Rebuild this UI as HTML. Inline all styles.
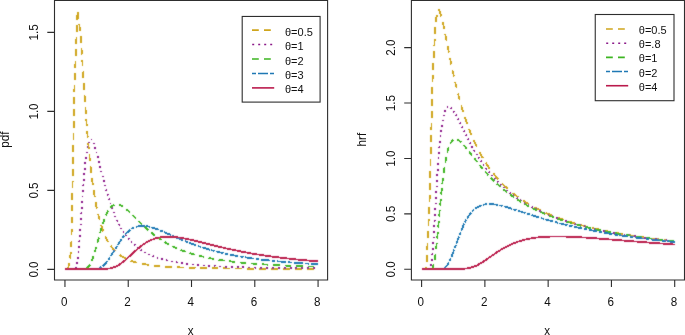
<!DOCTYPE html>
<html><head><meta charset="utf-8"><style>
html,body{margin:0;padding:0;background:#fff;width:685px;height:335px;overflow:hidden}
svg{display:block}
text{font-family:"Liberation Sans",Arial,sans-serif}
</style></head><body>
<svg width="685" height="335" viewBox="0 0 685 335">
<defs><filter id="bl" x="-2%" y="-2%" width="104%" height="104%"><feConvolveMatrix order="3" kernelMatrix="0.02 0.08 0.02 0.08 0.6 0.08 0.02 0.08 0.02" edgeMode="none"/></filter></defs><rect width="685" height="335" fill="#fff"/>
<g fill="none" stroke-width="1.8" stroke-linecap="butt" stroke-linejoin="round" shape-rendering="crispEdges" filter="url(#bl)">
<path d="M68.11,269.02L69.07,263.28M69.85,258.53L70.88,252.32M71.33,247.36L71.46,240.58M71.56,235.40L71.69,228.62M71.79,223.44L71.92,216.66M72.03,211.48L72.16,204.70M72.26,199.52L72.39,192.74M72.49,187.56L72.62,180.78M72.72,175.60L72.85,168.82M72.95,163.64L73.09,156.86M73.19,151.68L73.32,144.90M73.42,139.72L73.55,132.94M73.65,127.76L73.78,120.98M73.88,115.80L74.02,109.02M74.12,103.84L74.25,97.06M74.35,91.88L74.52,85.10M74.74,79.92L75.02,73.14M75.23,67.95L75.51,61.17M75.72,55.99L76,49.21M76.21,44.03L76.49,37.25M76.71,32.06L76.99,25.28M77.20,20.10L77.48,13.32M77.86,12.31L78.66,19.01M79.28,24.13L80.09,30.84M80.71,35.96L81.16,42.68M81.49,47.82L81.92,54.53M82.24,59.67L82.67,66.39M82.99,71.53L83.42,78.25M83.75,83.39L84.20,90.10M84.57,95.24L85.05,101.96M85.41,107.09L85.89,113.81M86.26,118.95L86.74,125.66M87.11,130.80L87.73,137.51M88.21,142.64L88.84,149.35M89.32,154.49L89.94,161.20M90.48,166.34L91.34,173.08M92,178.24L92.86,184.98M93.55,190.13L94.73,196.84M95.62,201.97L96.59,207.48L96.87,208.64M98.05,213.62L99.61,220.12M101.14,225.05L102.92,230.58L103.29,231.46M105.36,236.30L106.08,238L108.24,241.88M110.74,245.75L112.41,248.07L115.11,251.02M119.48,254.79L121.90,256.48L125.62,258.53M130.50,260.61L131.39,260.96L134.56,261.97L137.01,262.63M142.05,263.77L144.05,264.16L148.67,264.90M153.75,265.56L160.40,266.22M165.49,266.62L172.15,267.03M177.25,267.29L183.92,267.56M189.01,267.73L195.52,267.91M200.38,268.03L206.89,268.16M212.01,268.24L218.45,268.33M223.20,268.39L229.70,268.47M234.90,268.51L241.70,268.57M246.90,268.61L253.70,268.65M258.90,268.68L265.70,268.71M270.90,268.74L277.70,268.76M282.90,268.78L289.70,268.80M294.90,268.82L301.70,268.83M306.90,268.84L313.70,268.86" stroke="#CFA51C"/>
<path d="M65.11,269.02L66.10,269.02M70.10,269.02L72.10,269.02M75.30,268.22L75.71,267.61L76.02,266.93M76.88,263.80L77.20,262.12M77.72,258.64L77.95,256.86M78.35,253.26L78.53,251.45M78.87,247.79L79.04,245.95M79.34,242.26L79.49,240.41M79.78,236.69L79.91,234.83M80.18,231.10L80.32,229.24M80.58,225.50L80.71,223.62M80.96,219.88L81.09,218.01M81.34,214.26L81.47,212.38M81.72,208.64L81.85,206.76M82.10,203.02L82.23,201.15M82.49,197.41L82.62,195.54M82.88,191.80L83.02,189.94M83.30,186.21L83.44,184.35M83.73,180.64L83.87,178.79M84.18,175.10L84.34,173.25M84.67,169.58L84.84,167.75M85.20,164.11L85.39,162.30M85.79,158.71L86,156.92M86.47,153.39L86.72,151.64M87.29,148.21L87.62,146.53M88.40,143.31L88.89,141.81M90.57,139.49L90.89,139.47L91.21,139.57L91.53,139.77L91.89,140.12M93.34,142.67L93.91,144.09M94.94,147.07L95.41,148.60M96.30,151.71L96.73,153.28M97.57,156.44L97.98,158.03M98.79,161.22L99.19,162.82M99.98,166.03L100.38,167.63M101.18,170.83L101.58,172.42M102.38,175.59L102.78,177.17M103.60,180.32L104.01,181.85M104.79,184.77L105.21,186.28M106.08,189.41L106.53,190.96M107.44,194.05L107.90,195.57M108.83,198.56L109.30,200.03M110.26,202.93L110.76,204.38M111.78,207.28L112.32,208.73M113.43,211.62L114,213.06M115.19,215.91L115.80,217.32M117.06,220.09L117.71,221.45M119.05,224.12L119.73,225.39M121.07,227.80L121.78,229.02M123.30,231.47L124.09,232.66M125.71,234.99L126.54,236.11M128.27,238.30L129.17,239.37M131.06,241.46L132.04,242.48M134.07,244.43L135.12,245.37M137.29,247.18L138.42,248.05M140.74,249.70L141.94,250.49M144.42,252L145.70,252.71M148.33,254.06L149.68,254.70M152.46,255.91L153.88,256.48M156.80,257.54L158.29,258.04M161.33,258.98L162.89,259.42M166.05,260.24L167.66,260.62M170.94,261.33L172.60,261.66M175.96,262.27L177.67,262.56M181.12,263.09L182.86,263.34M186.39,263.80L188.17,264.01M191.75,264.41L193.51,264.59M197.01,264.92L198.83,265.07M202.73,265.39L204.57,265.53M208.15,265.77L209.96,265.89M213.66,266.11L215.53,266.21M219.31,266.41L221.21,266.50M225.04,266.67L226.96,266.75M230.81,266.90L232.73,266.97M236.60,267.11L238.54,267.17M242.42,267.29L244.37,267.34M248.27,267.44L250.22,267.49M254.13,267.58L256.08,267.63M260,267.71L261.96,267.74M265.89,267.82L267.86,267.85M271.79,267.91L273.76,267.95M277.71,268L279.68,268.03M283.63,268.08L285.60,268.11M289.56,268.15L291.53,268.18M295.49,268.22L297.47,268.24M301.43,268.28L303.41,268.29M307.38,268.33L309.36,268.35M313.33,268.38L315.32,268.39" stroke="#8B1A89"/>
<path d="M65.11,269.02L70.46,269.02M75.66,269.02L82.44,269M86.79,268.15L87.57,267.64L88.52,266.75L89.31,265.77L90.05,264.62M91.76,261.12L92.64,258.86L93.58,256.14M94.81,252.17L96.31,246.87M97.42,242.79L98.87,237.43M99.99,233.35L101.51,228.07M102.73,224.10L104.48,219.04M105.97,215.33L106.87,213.34L108.22,210.79M110.34,207.70L111.14,206.82L112.09,205.95L113.04,205.28L114.16,204.72M118.61,204.51L119.37,204.74L120.64,205.27L121.59,205.76L123.21,206.78M126.20,209.08L129.81,212.37M132.47,214.97L135.89,218.40M138.49,221L141.93,224.36M144.61,226.88L148.21,230.08M151.04,232.45L154.79,235.40M157.73,237.53L161.66,240.17M164.73,242.06L168.98,244.45M172.42,246.21L177.05,248.35M180.70,249.87L185.61,251.71M189.47,253L194.68,254.56M198.78,255.66L204.24,256.96M208.47,257.87L214.14,258.95M218.59,259.70L224.50,260.60M229.08,261.21L235.15,261.95M239.84,262.45L246.04,263.05M250.83,263.47L257.13,263.96M261.99,264.30L268.39,264.70M273.31,264.98L279.78,265.32M284.74,265.55L291.27,265.83M296.27,266.02L302.84,266.25M307.88,266.41L314.49,266.60" stroke="#3CB521"/>
<path d="M65.11,269.02L67.86,269.02M69.86,269.02L79.86,269.02M81.86,269.02L85.86,269.02M87.86,269.02L93.58,268.96L95.32,268.84L97.36,268.52M98.92,268.08L100.23,267.55L101.61,266.78M102.78,265.95L104.03,264.89L105.45,263.44L106.56,262.15L107.62,260.79M108.47,259.63L110.09,257.25M110.87,256.04L114.68,249.85M115.44,248.60L116.96,246.12M117.73,244.89L120,241.39L121.74,238.91M122.60,237.76L124.38,235.54M125.31,234.47L126.96,232.73L128.07,231.68L129.18,230.73L130.54,229.70M131.73,228.90L133.13,228.09L134.34,227.51M135.77,226.94L138.04,226.29L140.25,225.94L142.31,225.83L144.58,225.93M146.37,226.14L148.16,226.45L149.70,226.80M151.29,227.22L154.81,228.33L158.67,229.78M160.08,230.35L162.82,231.50M164.16,232.08L170.95,235.09M172.33,235.71L175.10,236.94M176.48,237.55L183.48,240.53M184.90,241.11L187.75,242.25M189.19,242.81L196.49,245.50M197.97,246.02L200.90,247M202.33,247.46L209.78,249.72M211.32,250.15L214.38,250.98M215.91,251.38L223.56,253.24M225.09,253.58L228.28,254.27M229.94,254.61L238.34,256.21M240.04,256.51L243.46,257.08M245.19,257.36L253.90,258.64M255.67,258.88L259.21,259.34M260.99,259.56L269.97,260.58M271.78,260.77L275.41,261.13M277.24,261.31L286.43,262.12M288.28,262.27L291.99,262.56M293.85,262.69L303.21,263.34M305.09,263.46L308.86,263.68M310.75,263.79L318.07,264.19" stroke="#1F78B4"/>
<path d="M65.11,269.02L99.28,269.02L104.03,268.95L106.56,268.81L109.09,268.52L111.14,268.13L113.52,267.45L115.42,266.71L117.63,265.61L119.85,264.26L122.22,262.57L126.02,259.43L134.08,252.03L138.35,248.30L141.04,246.15L142.78,244.87L144.68,243.58L146.74,242.31L148.95,241.10L151.80,239.77L153.70,239.03L156.07,238.26L158.92,237.55L161.45,237.10L163.82,236.82L166.67,236.65L170.47,236.67L175.06,237L179.33,237.55L184.71,238.49L193.41,240.39L217.77,246.42L229.79,249.19L241.18,251.55L249.09,253.03L256.53,254.30L269.34,256.24L284.69,258.19L302.09,259.99L318.07,261.33" stroke="#BA1A4C"/>
</g>
<path d="M54.5,0.5H327.6V280.0H54.5ZM64.95,280.0V287.00M128.23,280.0V287.00M191.51,280.0V287.00M254.79,280.0V287.00M318.07,280.0V287.00M54.5,269.42H47.30M54.5,190.41H47.30M54.5,111.39H47.30M54.5,32.38H47.30" fill="none" stroke="#2e2e2e" stroke-width="1.1"/>
<g fill="#111">
<text transform="translate(64.20,306.00) scale(0.94,1)" font-size="12.4" text-anchor="middle">0</text>
<text transform="translate(127.48,306.00) scale(0.94,1)" font-size="12.4" text-anchor="middle">2</text>
<text transform="translate(190.76,306.00) scale(0.94,1)" font-size="12.4" text-anchor="middle">4</text>
<text transform="translate(254.04,306.00) scale(0.94,1)" font-size="12.4" text-anchor="middle">6</text>
<text transform="translate(317.32,306.00) scale(0.94,1)" font-size="12.4" text-anchor="middle">8</text>
<text transform="translate(37.90,269.52) rotate(-90) scale(0.94,1)" font-size="12.4" text-anchor="middle">0.0</text>
<text transform="translate(37.90,190.51) rotate(-90) scale(0.94,1)" font-size="12.4" text-anchor="middle">0.5</text>
<text transform="translate(37.90,111.49) rotate(-90) scale(0.94,1)" font-size="12.4" text-anchor="middle">1.0</text>
<text transform="translate(37.90,32.48) rotate(-90) scale(0.94,1)" font-size="12.4" text-anchor="middle">1.5</text>
<text transform="translate(190.56,334.90) scale(0.94,1)" font-size="12.4" text-anchor="middle">x</text>
<text transform="translate(9.30,139.60) rotate(-90) scale(0.94,1)" font-size="12.4" text-anchor="middle">pdf</text>
</g>
<rect x="242.2" y="16.45" width="77.90" height="85.65" fill="#fff" stroke="#2e2e2e" stroke-width="1.1"/>
<g fill="none" stroke-width="1.6">
<path d="M252.00,30.10H258.80M264.00,30.10H270.80" stroke="#CFA51C"/>
<path d="M252.20,44.55H254.20M258.20,44.55H260.20M264.20,44.55H266.20M270.20,44.55H272.20" stroke="#8B1A89"/>
<path d="M252.00,59.00H258.80M264.00,59.00H270.80" stroke="#3CB521"/>
<path d="M252.00,73.45H256.00M258.00,73.45H268.00M270.00,73.45H274.00" stroke="#1F78B4"/>
<path d="M252.00,87.90H274.20" stroke="#BA1A4C"/>
</g>
<g fill="#111" font-size="11.0">
<text x="285.00" y="36.20">θ=0.5</text>
<text x="285.00" y="50.40">θ=1</text>
<text x="285.00" y="64.60">θ=2</text>
<text x="285.00" y="78.80">θ=3</text>
<text x="285.00" y="93.00">θ=4</text>
</g>
<g fill="none" stroke-width="1.8" stroke-linecap="butt" stroke-linejoin="round" shape-rendering="crispEdges" filter="url(#bl)">
<path d="M423.18,268.90L426.35,268.65L426.43,266.93M426.68,261.73L427,254.94M427.25,249.74L427.58,242.94M427.83,237.75L428.15,230.95M428.40,225.75L428.73,218.96M428.98,213.76L429.31,206.97M429.53,201.77L429.70,194.97M429.83,189.77L430,182.97M430.13,177.77L430.30,170.97M430.43,165.77L430.60,158.97M430.73,153.78L430.90,146.98M431.03,141.78L431.20,134.98M431.33,129.78L431.50,122.98M431.63,117.78L431.80,110.98M431.93,105.78L432.10,98.98M432.23,93.78L432.40,86.99M432.53,81.79L432.72,74.99M433.01,69.79L433.39,63M433.68,57.80L434.06,51.01M434.36,45.81L434.74,39.02M435.03,33.82L435.41,27.03M435.70,21.83L435.84,19.33L437.25,15.02M438.97,9.82L439,9.71L441.34,16.49M442.76,21.75L444.19,28.64M445.28,33.91L446.58,40.68M447.58,45.86L448.89,52.62M449.93,57.79L451.29,64.55M452.39,69.72L453.87,76.46M455.02,81.62L456.66,88.35M457.91,93.49L459.74,100.20M461.14,105.33L463.18,112M464.79,117.10L467.07,123.74M468.95,128.79L470.64,133.19L471.56,135.36M473.69,140.37L476.74,146.84M479.26,151.73L480.13,153.40L482.74,157.96M485.60,162.58L486.46,163.95L489.69,168.64M493.17,173.26L495.95,176.69L498.12,179.16M502.21,183.55L505.44,186.73L507.92,188.99M512.41,192.82L514.93,194.83L518.43,197.43M523.13,200.64L527.59,203.46L529.38,204.51M534.22,207.24L540.63,210.50M545.58,212.78L552.10,215.55M557.12,217.49L563.71,219.85M568.78,221.52L575.43,223.55M580.53,224.99L587.22,226.74M592.34,228L599.05,229.53M604.20,230.63L610.93,231.98M616.08,232.96L622.83,234.15M627.99,235.02L634.75,236.09M639.92,236.86L646.69,237.82M651.87,238.51L658.64,239.38M663.82,240.01L670.60,240.79" stroke="#CFA51C"/>
<path d="M421.99,268.90L423.99,268.90M427.98,268.90L428.88,268.84L429.19,268.75L429.59,268.51M430.84,265.75L431.19,264.10M431.71,260.63L431.92,258.84M432.30,255.21L432.47,253.38M432.78,249.69L432.92,247.84M433.20,244.11L433.33,242.24M433.58,238.49L433.70,236.61M433.93,232.85L434.05,230.96M434.28,227.19L434.39,225.30M434.61,221.52L434.72,219.63M434.93,215.85L435.04,213.96M435.26,210.17L435.36,208.28M435.58,204.49L435.69,202.60M435.90,198.82L436.01,196.93M436.23,193.15L436.34,191.26M436.57,187.48L436.68,185.59M436.91,181.82L437.03,179.94M437.27,176.18L437.39,174.30M437.63,170.55L437.76,168.68M438.02,164.93L438.15,163.07M438.43,159.34L438.57,157.48M438.86,153.77L439.01,151.92M439.32,148.23L439.48,146.40M439.82,142.73L440,140.91M440.37,137.28L440.56,135.48M440.98,131.89L441.20,130.11M441.67,126.59L441.93,124.84M442.48,121.40L442.79,119.70M443.47,116.39L443.86,114.78M444.78,111.69L445.33,110.25M446.82,107.73L447.38,107.22L447.98,106.89M450.84,107.78L451.83,108.79M453.54,111.09L454.31,112.31M455.78,114.84L456.48,116.14M457.85,118.77L458.52,120.10M459.85,122.77L460.51,124.11M461.83,126.79L462.49,128.14M463.80,130.82L464.47,132.15M465.80,134.82L466.47,136.15M467.83,138.79L468.48,140.04M469.73,142.41L470.40,143.65M471.82,146.23L472.55,147.54M474.06,150.17L474.82,151.46M476.32,153.96L477.05,155.14M478.48,157.40L479.23,158.56M480.82,160.95L481.63,162.14M483.27,164.49L484.14,165.68M485.93,168.10L486.83,169.27M488.60,171.51L489.50,172.62M491.33,174.80L492.25,175.87M494.14,177.98L495.10,179.02M497.05,181.07L498.04,182.08M500.05,184.07L501.07,185.05M503.15,186.97L504.20,187.92M506.34,189.78L507.43,190.69M509.64,192.48L510.76,193.36M513.03,195.09L514.18,195.94M516.52,197.61L517.70,198.42M520.10,200.02L521.31,200.81M523.78,202.34L525.02,203.10M527.55,204.57L528.82,205.30M531.41,206.71L532.72,207.41M535.36,208.76L536.70,209.43M539.40,210.73L540.76,211.36M543.52,212.60L544.91,213.21M547.72,214.40L549.14,214.98M552,216.12L553.44,216.68M556.35,217.77L557.82,218.30M560.78,219.34L562.27,219.85M565.28,220.84L566.79,221.33M569.84,222.28L571.38,222.74M574.47,223.65L576.03,224.09M579.16,224.96L580.74,225.38M583.91,226.21L585.50,226.62M588.71,227.41L590.32,227.80M593.56,228.56L595.19,228.93M598.47,229.65L600.11,230.01M603.42,230.70L605.08,231.04M608.42,231.70L610.09,232.03M613.46,232.66L615.15,232.97M618.54,233.58L620.24,233.88M623.66,234.46L625.37,234.75M628.82,235.31L630.54,235.58M634.01,236.11L635.74,236.38M639.23,236.89L640.98,237.14M644.48,237.64L646.24,237.88M649.77,238.35L651.54,238.58M655.08,239.04L656.86,239.26M660.42,239.70L662.21,239.91M665.79,240.33L667.58,240.54M671.18,240.94L672.98,241.14" stroke="#8B1A89"/>
<path d="M421.76,268.90L426.37,268.90M431.36,268.69L432.04,268.27L432.36,267.91L432.67,267.43L433.31,265.96L433.78,264.32M434.65,259.99L435.51,254.04M436.06,249.39L436.71,243.24M437.17,238.50L437.74,232.28M438.17,227.51L438.73,221.26M439.15,216.49L439.71,210.25M440.15,205.48L440.73,199.27M441.20,194.54L441.84,188.37M442.35,183.69L443.07,177.61M443.66,173L444.51,167.05M445.24,162.57L446.31,156.84M447.26,152.60L447.86,150.33L448.79,147.32M450.31,143.64L451.02,142.35L451.81,141.23L452.60,140.38L453.31,139.84M457.41,139.64L458.30,140.09L459.25,140.71L460.36,141.58L461.32,142.45M463.79,145.05L466.84,148.71M469.12,151.61L472.02,155.39M474.21,158.24L477.14,162.01M479.45,164.90L482.53,168.62M484.94,171.41L488.16,174.99M490.69,177.66L494.09,181.07M496.75,183.60L500.33,186.82M503.15,189.21L506.93,192.23M509.89,194.46L513.88,197.28M517,199.35L521.18,201.97M524.46,203.89L528.84,206.31M532.27,208.08L536.84,210.31M540.41,211.94L545.17,213.98M548.87,215.48L553.80,217.35M557.63,218.72L562.71,220.44M566.66,221.69L571.89,223.26M575.94,224.41L581.31,225.84M585.46,226.89L590.95,228.20M595.19,229.16L600.79,230.37M605.11,231.25L610.80,232.35M615.20,233.15L620.99,234.17M625.45,234.91L631.32,235.84M635.83,236.52L641.78,237.37M646.35,238L652.36,238.79M656.98,239.37L663.05,240.10M667.71,240.64L673.84,241.31" stroke="#3CB521"/>
<path d="M421.76,268.90L425.56,268.90M427.56,268.90L437.56,268.90M439.54,268.88L441.85,268.71L443.08,268.42M444.46,267.79L445.49,267.05L446.12,266.46L446.75,265.75L447.86,264.22L448.98,262.32M449.66,260.99L450.91,258.25M451.50,256.84L452.45,254.45L454.25,249.59M454.78,248.11L455.83,245.16M456.35,243.69L459.01,236.35M459.56,234.90L460.68,232.02M461.26,230.59L462.57,227.49L464.30,223.74M464.95,222.43L466.31,219.88M467.02,218.65L469.21,215.24L471.07,212.81M471.99,211.74L473.01,210.66L474.03,209.70M475.15,208.75L476.65,207.64L478.39,206.59L479.97,205.82L481.74,205.16M483.30,204.72L484.88,204.39L486.74,204.16M488.64,204.05L491.04,204.09L493.26,204.27L495.32,204.54L497.72,204.96M499.38,205.30L502.61,206.07M504.20,206.48L507.34,207.36L511.92,208.75M513.45,209.23L516.47,210.20M517.99,210.69L525.53,213.15M527.04,213.64L530.06,214.62M531.58,215.10L539.20,217.48M540.73,217.94L543.82,218.86M545.36,219.32L553.16,221.52M554.73,221.95L557.89,222.79M559.48,223.20L567.47,225.20M569.09,225.59L572.33,226.35M573.96,226.72L582.16,228.52M583.81,228.87L587.13,229.55M588.79,229.88L597.18,231.49M598.87,231.80L602.27,232.41M603.97,232.71L612.53,234.15M614.25,234.42L617.71,234.97M619.44,235.23L628.16,236.52M629.92,236.76L633.43,237.25M635.19,237.48L644.05,238.63M645.83,238.85L649.39,239.28M651.18,239.50L660.16,240.52M661.96,240.72L665.57,241.11M667.38,241.30L674.70,242.05" stroke="#1F78B4"/>
<path d="M421.76,268.90L456.40,268.90L461.15,268.84L464.47,268.67L466.21,268.50L467.95,268.25L470.80,267.64L473.49,266.80L475.70,265.91L478.23,264.68L480.13,263.63L484.88,260.63L495.16,253.47L500.22,250.17L502.59,248.74L505.91,246.89L508.60,245.52L511.13,244.34L514.61,242.89L517.30,241.90L521.10,240.68L524.26,239.82L527.11,239.15L531.22,238.35L535.34,237.72L539.29,237.26L543.09,236.93L547.52,236.67L556.22,236.47L565.55,236.60L576.31,237.05L585.96,237.63L600.04,238.65L646.54,242.40L674.70,244.51" stroke="#BA1A4C"/>
</g>
<path d="M411.4,0.5H684.5V280.0H411.4ZM421.60,280.0V287.00M484.88,280.0V287.00M548.15,280.0V287.00M611.43,280.0V287.00M674.70,280.0V287.00M411.4,269.30H404.20M411.4,213.88H404.20M411.4,158.46H404.20M411.4,103.04H404.20M411.4,47.62H404.20" fill="none" stroke="#2e2e2e" stroke-width="1.1"/>
<g fill="#111">
<text transform="translate(420.85,306.00) scale(0.94,1)" font-size="12.4" text-anchor="middle">0</text>
<text transform="translate(484.12,306.00) scale(0.94,1)" font-size="12.4" text-anchor="middle">2</text>
<text transform="translate(547.40,306.00) scale(0.94,1)" font-size="12.4" text-anchor="middle">4</text>
<text transform="translate(610.68,306.00) scale(0.94,1)" font-size="12.4" text-anchor="middle">6</text>
<text transform="translate(673.95,306.00) scale(0.94,1)" font-size="12.4" text-anchor="middle">8</text>
<text transform="translate(394.90,269.40) rotate(-90) scale(0.94,1)" font-size="12.4" text-anchor="middle">0.0</text>
<text transform="translate(394.90,213.98) rotate(-90) scale(0.94,1)" font-size="12.4" text-anchor="middle">0.5</text>
<text transform="translate(394.90,158.56) rotate(-90) scale(0.94,1)" font-size="12.4" text-anchor="middle">1.0</text>
<text transform="translate(394.90,103.14) rotate(-90) scale(0.94,1)" font-size="12.4" text-anchor="middle">1.5</text>
<text transform="translate(394.90,47.72) rotate(-90) scale(0.94,1)" font-size="12.4" text-anchor="middle">2.0</text>
<text transform="translate(547.20,334.90) scale(0.94,1)" font-size="12.4" text-anchor="middle">x</text>
<text transform="translate(366.40,139.60) rotate(-90) scale(0.94,1)" font-size="12.4" text-anchor="middle">hrf</text>
</g>
<rect x="595.25" y="14.5" width="78.75" height="86.20" fill="#fff" stroke="#2e2e2e" stroke-width="1.1"/>
<g fill="none" stroke-width="1.6">
<path d="M606.00,29.00H612.80M618.00,29.00H624.80" stroke="#CFA51C"/>
<path d="M606.20,43.18H608.20M612.20,43.18H614.20M618.20,43.18H620.20M624.20,43.18H626.20" stroke="#8B1A89"/>
<path d="M606.00,57.36H612.80M618.00,57.36H624.80" stroke="#3CB521"/>
<path d="M606.00,71.54H610.00M612.00,71.54H622.00M624.00,71.54H628.00" stroke="#1F78B4"/>
<path d="M606.00,85.72H628.20" stroke="#BA1A4C"/>
</g>
<g fill="#111" font-size="11.0">
<text x="638.80" y="33.70">θ=0.5</text>
<text x="638.80" y="48.00">θ=.8</text>
<text x="638.80" y="62.30">θ=1</text>
<text x="638.80" y="76.60">θ=2</text>
<text x="638.80" y="90.90">θ=4</text>
</g>
</svg>
</body></html>
